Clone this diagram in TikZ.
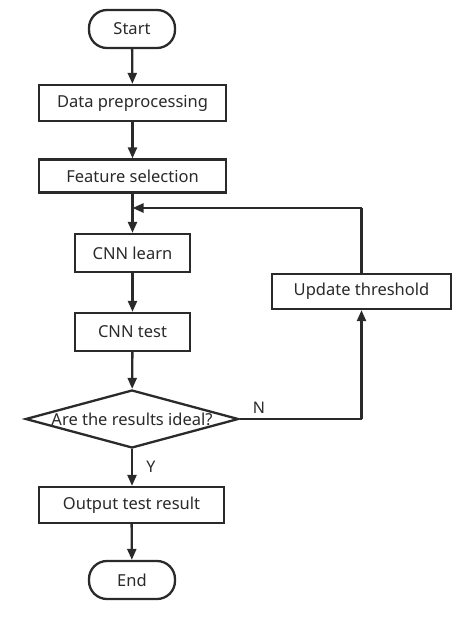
\documentclass[tikz,border=0pt]{standalone}
\usepackage{fontspec}
\setmainfont{Noto Sans}
\usetikzlibrary{arrows.meta,shapes.geometric}
\definecolor{ink}{HTML}{2A2A2A}
\begin{document}
\begin{tikzpicture}[x=1pt,y=-1pt,
  every node/.style={font=\fontsize{16.5}{18}\selectfont, text=ink},
  base/.style={draw=ink, line width=2.3pt, inner sep=0pt, align=center},
  term/.style={base, rectangle, rounded corners=18pt, minimum width=86pt, minimum height=38pt},
  proc/.style={base, rectangle, minimum height=36pt},
  decision/.style={base, diamond, aspect=3.67, minimum width=213pt, minimum height=58pt, inner sep=-6pt},
  flow/.style={draw=ink, line width=2.3pt, -{Triangle[length=11pt,width=9pt]}},
  plain/.style={draw=ink, line width=2.3pt},
  lbl/.style={font=\fontsize{16}{18}\selectfont}]
\fill[white] (0,0) rectangle (474,619);
\useasboundingbox (0,0) rectangle (474,619);

\node[term] (start) at (132,29) {Start};
\node[proc, minimum width=187pt] (data) at (132.5,103) {Data preprocessing};
\node[proc, minimum width=187pt, minimum height=33pt] (feat) at (132.5,176) {Feature selection};
\node[proc, minimum width=115pt, minimum height=38pt] (learn) at (132.5,253) {CNN learn};
\node[proc, minimum width=179pt, minimum height=35pt] (update) at (361.5,291.5) {Update threshold};
\node[proc, minimum width=115pt, minimum height=38pt] (test) at (132.5,332) {CNN test};
\node[decision] (dec) at (132,419) {Are the results ideal?};
\node[proc, minimum width=185pt] (out) at (131.5,505) {Output test result};
\node[term] (end) at (132,580) {End};

\coordinate (c1) at (361.5,419);
\coordinate (c2) at (361.5,208);
\coordinate (c3) at (132.5,208);

\draw[flow] (start) -- (data);
\draw[flow] (data) -- (feat);
\draw[flow] (feat) -- (learn);
\draw[flow] (learn) -- (test);
\draw[flow] (test) -- (dec);
\draw[flow] (dec) -- (dec.south |- out.north);
\draw[flow] (out) -- (end);
\draw[plain] (dec.east) -- (c1);
\draw[flow] (c1) -- (update);
\draw[plain] (update) -- (c2);
\draw[flow] (c2) -- (c3);

\node[lbl] (n) at (259,408) {N};
\node[lbl] (y) at (151,467) {Y};
\end{tikzpicture}
\end{document}
